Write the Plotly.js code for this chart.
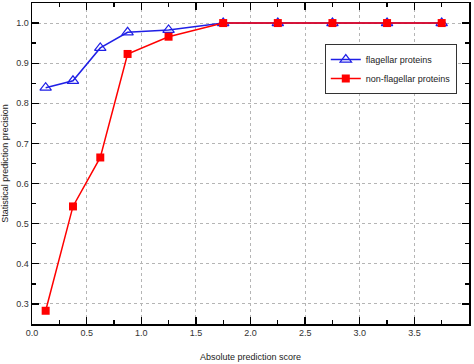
<!DOCTYPE html>
<html><head><meta charset="utf-8">
<script src="https://cdn.plot.ly/plotly-3.0.1.min.js"></script>
<style>html,body{margin:0;padding:0;background:#fff}#chart{width:474px;height:364px}</style>
</head><body><div id="chart"></div>
<script>
const scores = [0.125, 0.375, 0.625, 0.875, 1.25, 1.75, 2.25, 2.75, 3.25, 3.75];
const flagellar = [0.839, 0.856, 0.938, 0.977, 0.983, 1.0, 1.0, 1.0, 1.0, 1.0];
const nonFlagellar = [0.283, 0.543, 0.665, 0.923, 0.966, 1.0, 1.0, 1.0, 1.0, 1.0];
const seriesNames = ['flagellar proteins', 'non-flagellar proteins'];

const traces = [
  {x: scores, y: flagellar, name: seriesNames[0], type: 'scatter', mode: 'lines+markers',
   line: {color: '#1f1fe6', width: 1.5},
   marker: {symbol: 'triangle-up-open', size: 10, color: '#1f1fe6', line: {width: 1.2}}},
  {x: scores, y: nonFlagellar, name: seriesNames[1], type: 'scatter', mode: 'lines+markers',
   line: {color: '#ff0000', width: 1.5},
   marker: {symbol: 'square', size: 8, color: '#ff0000'}}
];

const axisCommon = {
  showline: true, linecolor: '#000', linewidth: 1.5, mirror: 'ticks',
  ticks: 'inside', ticklen: 7, tickcolor: '#000', tickwidth: 1.3,
  showgrid: true, gridcolor: '#b5b5b5', griddash: 'dot', gridwidth: 1,
  zeroline: false, tickfont: {family: 'Liberation Sans, Arial, sans-serif', size: 9, color: '#333'}
};

const layout = {
  width: 474, height: 364,
  margin: {l: 32, r: 5, t: 3, b: 40},
  paper_bgcolor: '#fff', plot_bgcolor: '#fff',
  showlegend: true,
  xaxis: Object.assign({}, axisCommon, {
    range: [0, 4.0], dtick: 0.5, tick0: 0, tickformat: '.1f',
    minor: {dtick: 0.25, ticklen: 4, tickcolor: '#000', showgrid: false, ticks: 'inside'},
    title: {text: 'Absolute prediction score', font: {family: 'Liberation Sans, Arial, sans-serif', size: 9, color: '#222'}, standoff: 16}
  }),
  yaxis: Object.assign({}, axisCommon, {
    range: [0.25, 1.05], dtick: 0.1, tick0: 0.3, tickformat: '.1f',
    minor: {dtick: 0.05, ticklen: 4, tickcolor: '#000', showgrid: false, ticks: 'inside'},
    title: {text: 'Statistical prediction precision', font: {family: 'Liberation Sans, Arial, sans-serif', size: 9, color: '#222'}, standoff: 6}
  }),
  legend: {
    x: 0.67, y: 0.872, xanchor: 'left', yanchor: 'top',
    bgcolor: '#fff', bordercolor: '#333', borderwidth: 1, tracegroupgap: 0,
    font: {family: 'Liberation Sans, Arial, sans-serif', size: 9, color: '#222'}
  }
};

Plotly.newPlot('chart', traces, layout, {displayModeBar: false, staticPlot: true});
</script></body></html>
